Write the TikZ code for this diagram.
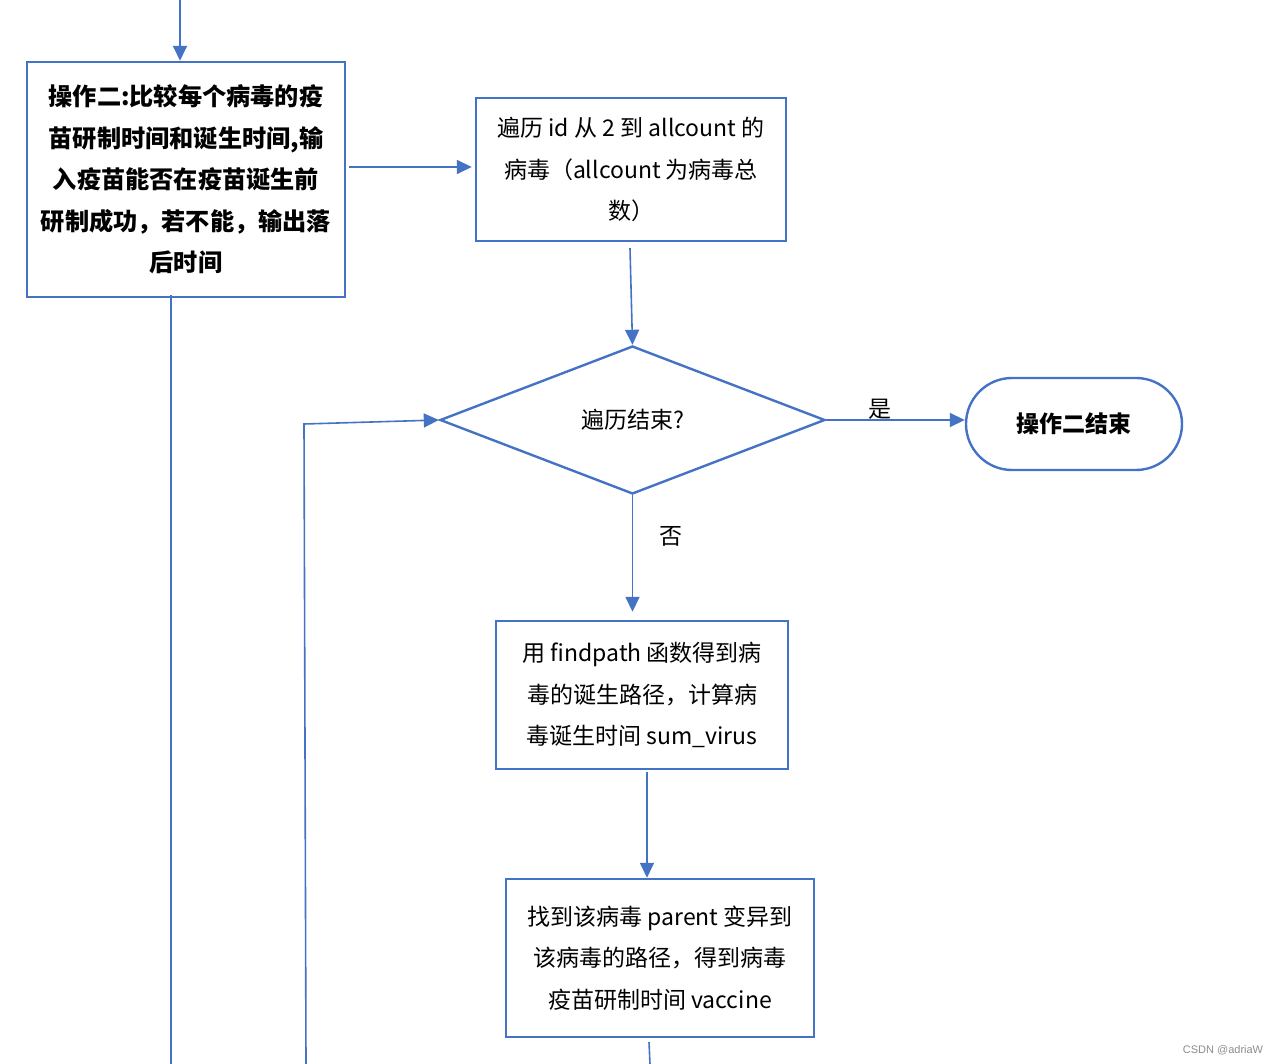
\documentclass[tikz,border=0pt]{standalone}
\usepackage{fontspec}
\setmainfont{Noto Sans CJK SC}
\newfontfamily\wmfont{Liberation Sans}
\usetikzlibrary{arrows.meta,shapes.geometric,calc}
\definecolor{flowblue}{HTML}{4472C4}
\tikzset{
  boxstyle/.style={draw=flowblue, line width=2.4pt, fill=white, inner sep=0pt, align=center, text=black,
    font=\fontsize{23}{41.5}\selectfont},
  boldbox/.style={boxstyle, font=\bfseries\fontsize{24.2}{41.5}\selectfont},
  decision/.style={draw=flowblue, line width=2.4pt, diamond, aspect=2.6, inner sep=0pt,
    minimum width=385pt, minimum height=148pt, font=\fontsize{23}{26}\selectfont},
  terminal/.style={draw=flowblue, line width=2.4pt, rounded corners=46pt, minimum width=216pt,
    minimum height=92pt, inner sep=0pt, font=\bfseries\fontsize{23}{26}\selectfont},
  conn/.style={draw=flowblue, line width=1.6pt},
  arr/.style={conn, -{Triangle[length=15pt,width=14pt]}},
  lbl/.style={font=\fontsize{23}{26}\selectfont, inner sep=0pt}
}
\begin{document}
\begin{tikzpicture}[x=1pt,y=-1pt]
\useasboundingbox (0,0) rectangle (1278,1064);
% nodes
\node[boldbox, minimum width=318pt, minimum height=235pt] (b1) at (186,179.5)
  {操作二:比较每个病毒的疫\\苗研制时间和诞生时间,输\\入疫苗能否在疫苗诞生前\\研制成功，若不能，输出落\\后时间};
\node[boxstyle, minimum width=310pt, minimum height=143pt] (b2) at (631,169.5)
  {遍历 id 从 2 到 allcount 的\\病毒（allcount 为病毒总\\数）};
\node[decision] (dia) at (632.5,420) {遍历结束?};
\node[terminal] (term) at (1074,424) {操作二结束};
\node[boxstyle, minimum width=292pt, minimum height=148pt] (b3) at (642,695)
  {用 findpath 函数得到病\\毒的诞生路径，计算病\\毒诞生时间 sum\_virus};
\node[boxstyle, minimum width=308pt, minimum height=158pt] (b4) at (660,958)
  {找到该病毒 parent 变异到\\该病毒的路径，得到病毒\\疫苗研制时间 vaccine};
% free ends
\coordinate (t0) at (180,0);
\coordinate (e1) at (171,1064);
\coordinate (e4) at (650,1064);
\coordinate (lp0) at (306,1064);
\coordinate (lp1) at (304,424);
% connectors
\draw[arr] (t0) -- (t0 |- b1.north);
\draw[arr] ($(b1.east |- 0,167)+(3,0)$) -- ($(b2.west |- 0,167)+(-3,0)$);
\draw[arr] ($(b2.south)+(-1,6)$) -- (dia.north);
\draw[arr] (dia.east) -- (term.west |- dia.east);
\node[lbl] (yes) at (880,409) {是};
\draw[arr] (dia.south) -- ([yshift=8pt]b3.north -| dia.south);
\node[lbl] (no) at (671,536) {否};
\draw[arr] ($(b3.south)+(5,2)$) -- ($(b4.north)+(-13,0)$);
\draw[conn] ($(b4.south)+(-11,4)$) -- (e4);
\draw[conn] ($(b1.south)+(-15,-3)$) -- (e1);
\draw[arr] (lp0) -- (lp1) -- (dia.west);
% watermark
\node[font=\wmfont\fontsize{11}{13}\selectfont, text=black!45, inner sep=0pt] (wm) at (1223,1050) {CSDN @adriaW};
\end{tikzpicture}
\end{document}
